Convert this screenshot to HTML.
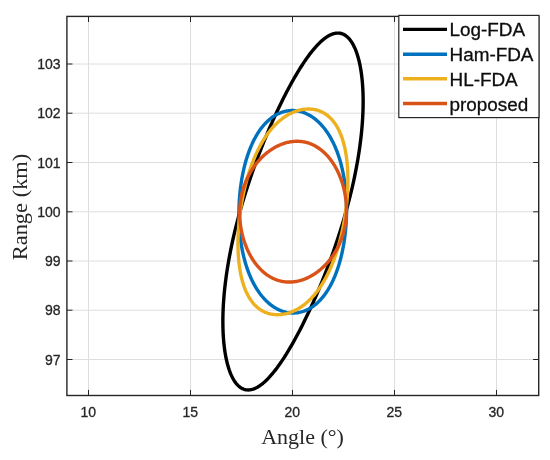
<!DOCTYPE html><html><head><meta charset="utf-8"><title>plot</title><style>html,body{margin:0;padding:0;background:#fff}svg{display:block}text{font-family:"Liberation Sans",sans-serif;fill:#262626;stroke:#262626;stroke-width:0.3px}.s{font-family:"Liberation Serif",serif;stroke:none}.l{fill:#0d0d0d;stroke:#0d0d0d}</style></head><body>
<svg width="550" height="460" viewBox="0 0 550 460">
<rect width="550" height="460" fill="#fff"/>
<path d="M88.5,16.4 V395.5 M190.5,16.4 V395.5 M292.5,16.4 V395.5 M394.5,16.4 V395.5 M496.5,16.4 V395.5 M66.9,359.5 H538.7 M66.9,310.2 H538.7 M66.9,261.0 H538.7 M66.9,211.8 H538.7 M66.9,162.5 H538.7 M66.9,113.2 H538.7 M66.9,64.0 H538.7" stroke="#dedede" stroke-width="1" fill="none"/>
<clipPath id="c"><rect x="66.9" y="16.4" width="471.8" height="379.1"/></clipPath>
<g clip-path="url(#c)" fill="none" stroke-linejoin="round">
<path d="M349.85,197.12 L350.60,194.09 L351.34,191.07 L352.05,188.06 L352.74,185.05 L353.41,182.05 L354.06,179.06 L354.68,176.07 L355.29,173.10 L355.88,170.14 L356.44,167.19 L356.98,164.25 L357.50,161.33 L358.00,158.42 L358.47,155.52 L358.92,152.64 L359.35,149.78 L359.76,146.93 L360.14,144.10 L360.50,141.29 L360.84,138.50 L361.16,135.73 L361.45,132.98 L361.72,130.25 L361.96,127.54 L362.18,124.86 L362.38,122.20 L362.56,119.56 L362.71,116.95 L362.84,114.37 L362.94,111.81 L363.03,109.28 L363.09,106.78 L363.13,104.31 L363.14,101.87 L363.13,99.46 L363.10,97.08 L363.05,94.74 L362.98,92.42 L362.88,90.14 L362.76,87.90 L362.62,85.69 L362.46,83.51 L362.28,81.37 L362.08,79.27 L361.85,77.21 L361.61,75.19 L361.35,73.20 L361.06,71.26 L360.75,69.36 L360.43,67.50 L360.09,65.68 L359.72,63.90 L359.34,62.17 L358.94,60.49 L358.52,58.84 L358.08,57.25 L357.62,55.70 L357.15,54.19 L356.66,52.74 L356.15,51.33 L355.62,49.97 L355.08,48.66 L354.52,47.40 L353.94,46.19 L353.35,45.02 L352.74,43.92 L352.12,42.86 L351.48,41.85 L350.82,40.90 L350.15,40.00 L349.47,39.16 L348.77,38.36 L348.06,37.62 L347.33,36.94 L346.59,36.31 L345.83,35.74 L345.07,35.22 L344.28,34.76 L343.49,34.35 L342.68,34.00 L341.86,33.70 L341.03,33.47 L340.18,33.28 L339.33,33.16 L338.46,33.09 L337.58,33.08 L336.68,33.12 L335.78,33.23 L334.86,33.39 L333.94,33.60 L333.00,33.88 L332.05,34.21 L331.10,34.59 L330.13,35.04 L329.15,35.54 L328.16,36.09 L327.16,36.70 L326.15,37.37 L325.14,38.10 L324.11,38.87 L323.07,39.71 L322.03,40.60 L320.97,41.54 L319.91,42.54 L318.84,43.59 L317.76,44.69 L316.67,45.85 L315.58,47.05 L314.48,48.31 L313.37,49.63 L312.25,50.99 L311.13,52.40 L309.99,53.86 L308.86,55.38 L307.71,56.94 L306.56,58.55 L305.41,60.20 L304.25,61.90 L303.08,63.65 L301.91,65.45 L300.73,67.29 L299.55,69.17 L298.36,71.09 L297.17,73.06 L295.98,75.07 L294.78,77.12 L293.58,79.22 L292.38,81.35 L291.18,83.52 L289.97,85.73 L288.76,87.97 L287.55,90.25 L286.34,92.57 L285.13,94.92 L283.92,97.31 L282.70,99.73 L281.49,102.18 L280.28,104.66 L279.07,107.17 L277.87,109.72 L276.66,112.29 L275.46,114.89 L274.26,117.51 L273.06,120.17 L271.87,122.85 L270.68,125.55 L269.50,128.27 L268.32,131.02 L267.15,133.79 L265.98,136.59 L264.82,139.40 L263.67,142.23 L262.53,145.08 L261.39,147.95 L260.26,150.83 L259.14,153.73 L258.03,156.65 L256.93,159.57 L255.84,162.52 L254.77,165.47 L253.70,168.44 L252.64,171.41 L251.60,174.40 L250.57,177.40 L249.55,180.40 L248.55,183.41 L247.56,186.43 L246.58,189.46 L245.62,192.49 L244.68,195.52 L243.75,198.56 L242.83,201.60 L241.94,204.64 L241.06,207.68 L240.20,210.72 L239.35,213.76 L238.52,216.80 L237.72,219.84 L236.93,222.87 L236.16,225.90 L235.41,228.93 L234.67,231.95 L233.96,234.97 L233.27,237.97 L232.60,240.97 L231.95,243.96 L231.33,246.95 L230.72,249.92 L230.13,252.88 L229.57,255.83 L229.03,258.77 L228.51,261.69 L228.01,264.60 L227.54,267.50 L227.09,270.38 L226.66,273.24 L226.25,276.09 L225.87,278.92 L225.51,281.73 L225.17,284.52 L224.85,287.29 L224.56,290.04 L224.29,292.77 L224.05,295.48 L223.83,298.16 L223.63,300.82 L223.45,303.46 L223.30,306.07 L223.17,308.65 L223.07,311.21 L222.98,313.74 L222.92,316.24 L222.88,318.71 L222.87,321.15 L222.88,323.56 L222.91,325.94 L222.96,328.29 L223.03,330.60 L223.13,332.88 L223.25,335.13 L223.39,337.34 L223.55,339.51 L223.73,341.65 L223.93,343.75 L224.16,345.81 L224.40,347.83 L224.66,349.82 L224.95,351.76 L225.26,353.66 L225.58,355.52 L225.92,357.34 L226.29,359.12 L226.67,360.85 L227.07,362.54 L227.49,364.18 L227.93,365.77 L228.39,367.33 L228.86,368.83 L229.35,370.29 L229.86,371.69 L230.39,373.05 L230.93,374.36 L231.49,375.63 L232.07,376.84 L232.66,378.00 L233.27,379.10 L233.89,380.16 L234.53,381.17 L235.19,382.12 L235.86,383.02 L236.54,383.87 L237.24,384.66 L237.95,385.40 L238.68,386.08 L239.42,386.71 L240.18,387.28 L240.94,387.80 L241.73,388.26 L242.52,388.67 L243.33,389.02 L244.15,389.32 L244.98,389.56 L245.83,389.74 L246.68,389.86 L247.55,389.93 L248.43,389.94 L249.33,389.90 L250.23,389.79 L251.15,389.63 L252.07,389.42 L253.01,389.14 L253.96,388.81 L254.91,388.43 L255.88,387.98 L256.86,387.48 L257.85,386.93 L258.85,386.32 L259.86,385.65 L260.87,384.93 L261.90,384.15 L262.94,383.31 L263.98,382.42 L265.04,381.48 L266.10,380.49 L267.17,379.43 L268.25,378.33 L269.34,377.18 L270.43,375.97 L271.53,374.71 L272.64,373.39 L273.76,372.03 L274.88,370.62 L276.02,369.16 L277.15,367.64 L278.30,366.08 L279.45,364.48 L280.60,362.82 L281.76,361.12 L282.93,359.37 L284.10,357.57 L285.28,355.74 L286.46,353.85 L287.65,351.93 L288.84,349.96 L290.03,347.95 L291.23,345.90 L292.43,343.80 L293.63,341.67 L294.83,339.50 L296.04,337.29 L297.25,335.05 L298.46,332.77 L299.67,330.45 L300.88,328.10 L302.09,325.71 L303.31,323.29 L304.52,320.84 L305.73,318.36 L306.94,315.85 L308.14,313.30 L309.35,310.73 L310.55,308.13 L311.75,305.51 L312.95,302.85 L314.14,300.18 L315.33,297.47 L316.51,294.75 L317.69,292.00 L318.86,289.23 L320.03,286.43 L321.18,283.62 L322.34,280.79 L323.48,277.94 L324.62,275.07 L325.75,272.19 L326.87,269.29 L327.98,266.38 L329.08,263.45 L330.16,260.50 L331.24,257.55 L332.31,254.58 L333.37,251.61 L334.41,248.62 L335.44,245.62 L336.46,242.62 L337.46,239.61 L338.45,236.59 L339.43,233.56 L340.39,230.53 L341.33,227.50 L342.26,224.46 L343.18,221.43 L344.07,218.38 L344.95,215.34 L345.81,212.30 L346.66,209.26 L347.49,206.22 L348.29,203.18 L349.08,200.15Z" stroke="#000000" stroke-width="3.4"/>
<path d="M346.51,214.10 L346.54,212.30 L346.55,210.51 L346.55,208.71 L346.53,206.91 L346.50,205.11 L346.45,203.32 L346.39,201.52 L346.31,199.72 L346.21,197.93 L346.10,196.14 L345.98,194.35 L345.83,192.57 L345.67,190.79 L345.49,189.02 L345.30,187.25 L345.09,185.50 L344.87,183.74 L344.62,182.00 L344.37,180.26 L344.09,178.54 L343.80,176.82 L343.49,175.12 L343.16,173.42 L342.82,171.74 L342.46,170.07 L342.09,168.41 L341.70,166.77 L341.29,165.14 L340.86,163.52 L340.42,161.92 L339.97,160.34 L339.49,158.77 L339.00,157.23 L338.50,155.69 L337.97,154.18 L337.44,152.69 L336.88,151.21 L336.31,149.76 L335.73,148.32 L335.13,146.91 L334.51,145.52 L333.88,144.15 L333.24,142.80 L332.58,141.48 L331.91,140.18 L331.22,138.90 L330.52,137.65 L329.80,136.42 L329.07,135.22 L328.33,134.04 L327.58,132.89 L326.81,131.76 L326.03,130.66 L325.24,129.59 L324.44,128.55 L323.62,127.53 L322.80,126.54 L321.96,125.58 L321.12,124.64 L320.26,123.74 L319.39,122.86 L318.52,122.01 L317.64,121.20 L316.74,120.41 L315.84,119.65 L314.93,118.92 L314.02,118.22 L313.10,117.55 L312.17,116.91 L311.23,116.30 L310.29,115.72 L309.34,115.17 L308.39,114.65 L307.43,114.17 L306.47,113.71 L305.51,113.28 L304.54,112.89 L303.57,112.52 L302.60,112.19 L301.62,111.89 L300.65,111.61 L299.67,111.37 L298.69,111.16 L297.71,110.98 L296.73,110.83 L295.75,110.71 L294.77,110.62 L293.79,110.56 L292.81,110.53 L291.84,110.53 L290.87,110.56 L289.89,110.62 L288.93,110.71 L287.96,110.83 L287.00,110.97 L286.04,111.15 L285.09,111.36 L284.14,111.60 L283.20,111.86 L282.26,112.16 L281.32,112.48 L280.40,112.83 L279.48,113.21 L278.56,113.62 L277.65,114.05 L276.75,114.52 L275.85,115.01 L274.96,115.52 L274.08,116.07 L273.21,116.64 L272.35,117.24 L271.49,117.87 L270.64,118.52 L269.80,119.20 L268.97,119.90 L268.15,120.63 L267.33,121.39 L266.53,122.17 L265.73,122.98 L264.95,123.81 L264.17,124.67 L263.41,125.55 L262.65,126.46 L261.91,127.39 L261.17,128.34 L260.45,129.32 L259.73,130.32 L259.03,131.34 L258.34,132.39 L257.65,133.46 L256.98,134.56 L256.32,135.67 L255.67,136.81 L255.03,137.97 L254.40,139.15 L253.79,140.35 L253.18,141.58 L252.59,142.82 L252.01,144.09 L251.44,145.37 L250.88,146.68 L250.33,148.00 L249.80,149.35 L249.27,150.71 L248.76,152.09 L248.26,153.50 L247.77,154.91 L247.30,156.35 L246.84,157.81 L246.38,159.28 L245.94,160.77 L245.52,162.27 L245.10,163.79 L244.70,165.33 L244.31,166.88 L243.94,168.45 L243.57,170.04 L243.22,171.63 L242.88,173.24 L242.56,174.87 L242.25,176.50 L241.95,178.15 L241.66,179.81 L241.39,181.49 L241.13,183.17 L240.89,184.87 L240.66,186.57 L240.44,188.29 L240.24,190.01 L240.05,191.75 L239.87,193.49 L239.71,195.24 L239.56,196.99 L239.43,198.75 L239.31,200.52 L239.21,202.30 L239.12,204.08 L239.04,205.86 L238.98,207.65 L238.94,209.44 L238.91,211.23 L238.90,213.03 L238.90,214.83 L238.91,216.62 L238.95,218.42 L238.99,220.22 L239.06,222.02 L239.14,223.81 L239.23,225.61 L239.34,227.40 L239.47,229.18 L239.62,230.97 L239.78,232.74 L239.95,234.52 L240.15,236.28 L240.35,238.04 L240.58,239.79 L240.82,241.54 L241.08,243.27 L241.36,245.00 L241.65,246.72 L241.96,248.42 L242.28,250.12 L242.62,251.80 L242.98,253.47 L243.36,255.13 L243.75,256.77 L244.16,258.40 L244.58,260.01 L245.02,261.61 L245.48,263.20 L245.95,264.76 L246.44,266.31 L246.95,267.84 L247.47,269.36 L248.01,270.85 L248.56,272.32 L249.13,273.78 L249.72,275.21 L250.32,276.63 L250.93,278.02 L251.56,279.39 L252.21,280.73 L252.87,282.06 L253.54,283.36 L254.23,284.64 L254.93,285.89 L255.64,287.12 L256.37,288.32 L257.11,289.50 L257.87,290.65 L258.64,291.77 L259.42,292.87 L260.21,293.95 L261.01,294.99 L261.82,296.01 L262.65,297.00 L263.48,297.96 L264.33,298.89 L265.19,299.80 L266.05,300.68 L266.93,301.52 L267.81,302.34 L268.70,303.13 L269.61,303.89 L270.51,304.62 L271.43,305.32 L272.35,305.99 L273.28,306.63 L274.22,307.24 L275.16,307.82 L276.11,308.36 L277.06,308.88 L278.01,309.37 L278.97,309.83 L279.94,310.25 L280.91,310.65 L281.88,311.01 L282.85,311.35 L283.82,311.65 L284.80,311.92 L285.78,312.17 L286.76,312.38 L287.74,312.56 L288.72,312.71 L289.70,312.83 L290.68,312.92 L291.66,312.98 L292.63,313.01 L293.61,313.01 L294.58,312.98 L295.55,312.92 L296.52,312.83 L297.49,312.71 L298.45,312.56 L299.40,312.38 L300.36,312.18 L301.31,311.94 L302.25,311.68 L303.19,311.38 L304.12,311.06 L305.05,310.71 L305.97,310.33 L306.89,309.92 L307.80,309.48 L308.70,309.02 L309.60,308.53 L310.48,308.01 L311.36,307.47 L312.24,306.89 L313.10,306.29 L313.96,305.67 L314.81,305.02 L315.65,304.34 L316.48,303.63 L317.30,302.90 L318.11,302.15 L318.92,301.36 L319.71,300.56 L320.50,299.72 L321.27,298.87 L322.04,297.99 L322.79,297.08 L323.54,296.15 L324.28,295.20 L325.00,294.22 L325.71,293.22 L326.42,292.19 L327.11,291.14 L327.79,290.07 L328.47,288.98 L329.13,287.86 L329.78,286.73 L330.42,285.57 L331.04,284.39 L331.66,283.18 L332.26,281.96 L332.86,280.71 L333.44,279.45 L334.01,278.16 L334.57,276.86 L335.12,275.53 L335.65,274.19 L336.17,272.83 L336.69,271.44 L337.19,270.04 L337.67,268.62 L338.15,267.18 L338.61,265.73 L339.06,264.26 L339.50,262.77 L339.93,261.26 L340.34,259.74 L340.75,258.20 L341.13,256.65 L341.51,255.08 L341.87,253.50 L342.23,251.90 L342.56,250.29 L342.89,248.67 L343.20,247.03 L343.50,245.38 L343.78,243.72 L344.06,242.05 L344.31,240.36 L344.56,238.67 L344.79,236.96 L345.01,235.25 L345.21,233.52 L345.40,231.79 L345.58,230.05 L345.74,228.30 L345.89,226.55 L346.02,224.78 L346.14,223.01 L346.24,221.24 L346.33,219.46 L346.41,217.68 L346.47,215.89Z" stroke="#0072BD" stroke-width="3.4"/>
<path d="M346.43,205.56 L346.64,203.57 L346.84,201.58 L347.02,199.60 L347.19,197.62 L347.33,195.64 L347.47,193.67 L347.58,191.71 L347.68,189.76 L347.76,187.81 L347.82,185.88 L347.86,183.95 L347.89,182.04 L347.90,180.14 L347.89,178.26 L347.87,176.38 L347.82,174.53 L347.76,172.69 L347.68,170.86 L347.58,169.06 L347.47,167.27 L347.34,165.50 L347.19,163.75 L347.02,162.02 L346.83,160.32 L346.63,158.63 L346.41,156.97 L346.17,155.34 L345.92,153.72 L345.64,152.13 L345.35,150.57 L345.04,149.03 L344.72,147.52 L344.37,146.03 L344.01,144.58 L343.64,143.15 L343.24,141.74 L342.83,140.37 L342.41,139.02 L341.96,137.71 L341.51,136.42 L341.03,135.16 L340.54,133.93 L340.03,132.73 L339.51,131.56 L338.98,130.43 L338.42,129.32 L337.86,128.24 L337.28,127.19 L336.68,126.18 L336.07,125.19 L335.45,124.23 L334.81,123.31 L334.16,122.41 L333.50,121.55 L332.82,120.72 L332.14,119.91 L331.44,119.14 L330.72,118.40 L330.00,117.68 L329.26,117.00 L328.52,116.35 L327.76,115.72 L326.99,115.13 L326.22,114.56 L325.43,114.03 L324.63,113.52 L323.83,113.04 L323.01,112.59 L322.19,112.16 L321.36,111.77 L320.52,111.40 L319.67,111.06 L318.82,110.75 L317.95,110.46 L317.09,110.20 L316.21,109.97 L315.33,109.76 L314.44,109.58 L313.55,109.42 L312.66,109.30 L311.75,109.19 L310.85,109.11 L309.94,109.06 L309.02,109.03 L308.10,109.03 L307.18,109.05 L306.26,109.10 L305.33,109.17 L304.40,109.26 L303.47,109.38 L302.54,109.53 L301.60,109.69 L300.67,109.89 L299.73,110.10 L298.79,110.34 L297.85,110.61 L296.91,110.89 L295.97,111.20 L295.04,111.54 L294.10,111.90 L293.16,112.28 L292.22,112.69 L291.29,113.12 L290.36,113.58 L289.43,114.06 L288.50,114.56 L287.57,115.09 L286.64,115.64 L285.72,116.22 L284.80,116.82 L283.89,117.45 L282.97,118.10 L282.07,118.78 L281.16,119.48 L280.26,120.21 L279.36,120.96 L278.47,121.74 L277.58,122.54 L276.70,123.37 L275.82,124.23 L274.94,125.11 L274.08,126.02 L273.21,126.95 L272.36,127.91 L271.51,128.90 L270.66,129.91 L269.82,130.95 L268.99,132.01 L268.17,133.10 L267.35,134.22 L266.54,135.37 L265.74,136.54 L264.94,137.74 L264.15,138.96 L263.37,140.21 L262.60,141.49 L261.83,142.79 L261.08,144.12 L260.33,145.47 L259.59,146.85 L258.86,148.26 L258.14,149.69 L257.43,151.15 L256.73,152.63 L256.04,154.13 L255.35,155.66 L254.68,157.22 L254.02,158.80 L253.37,160.40 L252.73,162.02 L252.10,163.66 L251.48,165.33 L250.87,167.02 L250.28,168.73 L249.69,170.46 L249.12,172.21 L248.56,173.97 L248.01,175.76 L247.48,177.56 L246.96,179.38 L246.45,181.22 L245.95,183.07 L245.46,184.94 L244.99,186.82 L244.54,188.72 L244.10,190.62 L243.67,192.54 L243.25,194.47 L242.85,196.41 L242.47,198.36 L242.10,200.32 L241.74,202.29 L241.40,204.26 L241.07,206.24 L240.76,208.22 L240.47,210.20 L240.19,212.19 L239.93,214.18 L239.68,216.17 L239.45,218.16 L239.23,220.15 L239.04,222.14 L238.85,224.12 L238.69,226.10 L238.54,228.08 L238.41,230.05 L238.30,232.01 L238.20,233.96 L238.12,235.91 L238.06,237.84 L238.01,239.77 L237.99,241.68 L237.98,243.58 L237.99,245.46 L238.01,247.34 L238.05,249.19 L238.12,251.03 L238.19,252.86 L238.29,254.66 L238.41,256.45 L238.54,258.22 L238.69,259.97 L238.86,261.70 L239.04,263.40 L239.25,265.09 L239.47,266.75 L239.70,268.38 L239.96,270.00 L240.23,271.59 L240.53,273.15 L240.83,274.69 L241.16,276.20 L241.50,277.69 L241.86,279.14 L242.24,280.57 L242.63,281.98 L243.04,283.35 L243.47,284.70 L243.91,286.01 L244.37,287.30 L244.85,288.56 L245.34,289.79 L245.84,290.99 L246.36,292.16 L246.90,293.29 L247.45,294.40 L248.02,295.48 L248.60,296.53 L249.20,297.54 L249.80,298.53 L250.43,299.49 L251.06,300.41 L251.71,301.31 L252.38,302.17 L253.05,303.00 L253.74,303.81 L254.44,304.58 L255.15,305.32 L255.88,306.04 L256.61,306.72 L257.36,307.37 L258.11,308.00 L258.88,308.59 L259.66,309.16 L260.45,309.69 L261.24,310.20 L262.05,310.68 L262.86,311.13 L263.69,311.56 L264.52,311.95 L265.36,312.32 L266.21,312.66 L267.06,312.97 L267.92,313.26 L268.79,313.52 L269.66,313.75 L270.55,313.96 L271.43,314.14 L272.32,314.30 L273.22,314.42 L274.12,314.53 L275.03,314.61 L275.94,314.66 L276.85,314.69 L277.77,314.69 L278.69,314.67 L279.62,314.62 L280.54,314.55 L281.47,314.46 L282.41,314.34 L283.34,314.19 L284.27,314.03 L285.21,313.83 L286.15,313.62 L287.09,313.38 L288.02,313.11 L288.96,312.83 L289.90,312.52 L290.84,312.18 L291.78,311.82 L292.72,311.44 L293.65,311.03 L294.59,310.60 L295.52,310.14 L296.45,309.66 L297.38,309.16 L298.31,308.63 L299.23,308.08 L300.15,307.50 L301.07,306.90 L301.99,306.27 L302.90,305.62 L303.81,304.94 L304.72,304.24 L305.62,303.51 L306.51,302.76 L307.41,301.98 L308.30,301.18 L309.18,300.35 L310.06,299.49 L310.93,298.61 L311.80,297.70 L312.66,296.77 L313.52,295.81 L314.37,294.82 L315.21,293.81 L316.05,292.77 L316.88,291.71 L317.71,290.62 L318.53,289.50 L319.34,288.35 L320.14,287.18 L320.94,285.98 L321.73,284.76 L322.51,283.51 L323.28,282.23 L324.04,280.93 L324.80,279.60 L325.55,278.25 L326.29,276.87 L327.01,275.46 L327.74,274.03 L328.45,272.57 L329.15,271.09 L329.84,269.59 L330.52,268.06 L331.19,266.50 L331.86,264.92 L332.51,263.32 L333.15,261.70 L333.78,260.06 L334.40,258.39 L335.00,256.70 L335.60,254.99 L336.18,253.26 L336.75,251.51 L337.31,249.75 L337.86,247.96 L338.40,246.16 L338.92,244.34 L339.43,242.50 L339.93,240.65 L340.41,238.78 L340.88,236.90 L341.34,235.00 L341.78,233.09 L342.21,231.18 L342.62,229.25 L343.02,227.30 L343.41,225.36 L343.78,223.40 L344.14,221.43 L344.48,219.46 L344.80,217.48 L345.11,215.50 L345.41,213.52 L345.69,211.53 L345.95,209.54 L346.20,207.55Z" stroke="#EDB120" stroke-width="3.4"/>
<path d="M346.46,211.63 L346.47,210.45 L346.46,209.27 L346.44,208.09 L346.41,206.90 L346.35,205.72 L346.29,204.55 L346.20,203.37 L346.11,202.19 L345.99,201.02 L345.86,199.85 L345.72,198.68 L345.56,197.52 L345.39,196.36 L345.20,195.20 L345.00,194.04 L344.79,192.89 L344.56,191.75 L344.31,190.61 L344.05,189.47 L343.78,188.34 L343.49,187.22 L343.19,186.10 L342.88,184.99 L342.55,183.88 L342.21,182.78 L341.86,181.69 L341.49,180.61 L341.11,179.53 L340.72,178.47 L340.31,177.41 L339.89,176.36 L339.46,175.32 L339.02,174.28 L338.56,173.26 L338.09,172.25 L337.61,171.25 L337.12,170.26 L336.62,169.28 L336.10,168.31 L335.57,167.36 L335.03,166.41 L334.48,165.48 L333.92,164.56 L333.34,163.66 L332.75,162.77 L332.16,161.89 L331.55,161.03 L330.93,160.18 L330.30,159.34 L329.66,158.52 L329.01,157.72 L328.35,156.93 L327.67,156.16 L326.99,155.40 L326.30,154.66 L325.60,153.94 L324.88,153.24 L324.16,152.55 L323.43,151.88 L322.69,151.23 L321.94,150.60 L321.18,149.98 L320.41,149.39 L319.63,148.81 L318.84,148.26 L318.05,147.72 L317.24,147.20 L316.43,146.71 L315.61,146.23 L314.78,145.78 L313.94,145.34 L313.10,144.93 L312.25,144.54 L311.39,144.17 L310.53,143.82 L309.65,143.50 L308.78,143.19 L307.89,142.91 L307.00,142.65 L306.10,142.41 L305.20,142.20 L304.29,142.00 L303.38,141.83 L302.46,141.69 L301.54,141.56 L300.62,141.46 L299.69,141.38 L298.75,141.33 L297.81,141.30 L296.87,141.29 L295.93,141.30 L294.99,141.34 L294.04,141.40 L293.09,141.48 L292.14,141.59 L291.18,141.71 L290.23,141.87 L289.28,142.04 L288.32,142.24 L287.37,142.46 L286.41,142.70 L285.46,142.96 L284.51,143.25 L283.56,143.56 L282.61,143.89 L281.67,144.24 L280.72,144.61 L279.78,145.01 L278.85,145.42 L277.91,145.86 L276.99,146.32 L276.06,146.80 L275.14,147.30 L274.23,147.82 L273.32,148.36 L272.42,148.91 L271.52,149.49 L270.63,150.09 L269.75,150.71 L268.87,151.34 L268.00,151.99 L267.14,152.66 L266.29,153.35 L265.45,154.06 L264.62,154.78 L263.79,155.52 L262.98,156.28 L262.18,157.05 L261.38,157.84 L260.60,158.65 L259.83,159.47 L259.07,160.30 L258.32,161.15 L257.58,162.01 L256.86,162.89 L256.15,163.78 L255.45,164.69 L254.76,165.61 L254.09,166.54 L253.43,167.48 L252.78,168.43 L252.15,169.40 L251.53,170.38 L250.93,171.37 L250.34,172.37 L249.76,173.38 L249.20,174.40 L248.66,175.43 L248.13,176.47 L247.61,177.52 L247.12,178.58 L246.63,179.64 L246.17,180.72 L245.72,181.80 L245.28,182.89 L244.86,183.99 L244.46,185.09 L244.07,186.20 L243.70,187.32 L243.35,188.44 L243.01,189.57 L242.69,190.70 L242.38,191.84 L242.09,192.99 L241.82,194.13 L241.57,195.29 L241.33,196.44 L241.11,197.60 L240.90,198.77 L240.71,199.93 L240.54,201.10 L240.38,202.28 L240.24,203.45 L240.12,204.63 L240.01,205.81 L239.92,206.99 L239.84,208.17 L239.79,209.35 L239.74,210.53 L239.72,211.71 L239.71,212.90 L239.71,214.08 L239.73,215.26 L239.77,216.44 L239.82,217.62 L239.89,218.80 L239.97,219.98 L240.07,221.15 L240.18,222.33 L240.31,223.50 L240.45,224.66 L240.61,225.83 L240.78,226.99 L240.97,228.15 L241.17,229.30 L241.39,230.45 L241.62,231.60 L241.86,232.74 L242.12,233.87 L242.39,235.00 L242.68,236.13 L242.98,237.25 L243.29,238.36 L243.62,239.46 L243.96,240.56 L244.31,241.65 L244.68,242.74 L245.06,243.81 L245.45,244.88 L245.86,245.94 L246.28,246.99 L246.71,248.03 L247.15,249.06 L247.61,250.08 L248.08,251.09 L248.56,252.10 L249.05,253.09 L249.56,254.06 L250.07,255.03 L250.60,255.99 L251.14,256.93 L251.69,257.86 L252.26,258.78 L252.83,259.69 L253.42,260.58 L254.01,261.46 L254.62,262.32 L255.24,263.17 L255.87,264.00 L256.51,264.82 L257.16,265.63 L257.83,266.42 L258.50,267.19 L259.18,267.94 L259.87,268.68 L260.58,269.40 L261.29,270.11 L262.01,270.80 L262.74,271.47 L263.48,272.12 L264.24,272.75 L265.00,273.36 L265.77,273.96 L266.54,274.53 L267.33,275.09 L268.13,275.63 L268.93,276.14 L269.74,276.64 L270.56,277.11 L271.39,277.57 L272.23,278.00 L273.07,278.41 L273.92,278.81 L274.78,279.18 L275.65,279.52 L276.52,279.85 L277.40,280.16 L278.28,280.44 L279.17,280.70 L280.07,280.93 L280.97,281.15 L281.88,281.34 L282.79,281.51 L283.71,281.66 L284.63,281.78 L285.56,281.88 L286.49,281.96 L287.42,282.02 L288.36,282.05 L289.30,282.06 L290.24,282.05 L291.19,282.01 L292.14,281.95 L293.08,281.87 L294.04,281.76 L294.99,281.63 L295.94,281.48 L296.90,281.31 L297.85,281.11 L298.80,280.89 L299.76,280.65 L300.71,280.38 L301.66,280.10 L302.61,279.79 L303.56,279.46 L304.51,279.11 L305.45,278.73 L306.39,278.34 L307.33,277.92 L308.26,277.48 L309.19,277.03 L310.11,276.55 L311.03,276.05 L311.94,275.53 L312.85,274.99 L313.76,274.43 L314.65,273.85 L315.54,273.26 L316.43,272.64 L317.30,272.01 L318.17,271.35 L319.03,270.68 L319.88,269.99 L320.72,269.29 L321.55,268.56 L322.38,267.82 L323.19,267.07 L324.00,266.29 L324.79,265.50 L325.57,264.70 L326.34,263.88 L327.10,263.05 L327.85,262.20 L328.59,261.33 L329.31,260.45 L330.03,259.56 L330.73,258.66 L331.41,257.74 L332.09,256.81 L332.75,255.87 L333.39,254.91 L334.02,253.94 L334.64,252.97 L335.25,251.98 L335.84,250.98 L336.41,249.97 L336.97,248.95 L337.51,247.92 L338.04,246.88 L338.56,245.83 L339.06,244.77 L339.54,243.70 L340.01,242.63 L340.46,241.55 L340.89,240.46 L341.31,239.36 L341.71,238.26 L342.10,237.15 L342.47,236.03 L342.83,234.91 L343.16,233.78 L343.49,232.64 L343.79,231.50 L344.08,230.36 L344.35,229.21 L344.61,228.06 L344.84,226.90 L345.07,225.74 L345.27,224.58 L345.46,223.41 L345.63,222.24 L345.79,221.07 L345.93,219.89 L346.05,218.72 L346.16,217.54 L346.25,216.36 L346.33,215.18 L346.39,214.00 L346.43,212.82Z" stroke="#D95319" stroke-width="3.4"/>
</g>
<path d="M88.5,395.5 v-5.6 M88.5,16.4 v5.6 M190.5,395.5 v-5.6 M190.5,16.4 v5.6 M292.5,395.5 v-5.6 M292.5,16.4 v5.6 M394.5,395.5 v-5.6 M394.5,16.4 v5.6 M496.5,395.5 v-5.6 M496.5,16.4 v5.6 M66.9,359.5 h5.6 M538.7,359.5 h-5.6 M66.9,310.2 h5.6 M538.7,310.2 h-5.6 M66.9,261.0 h5.6 M538.7,261.0 h-5.6 M66.9,211.8 h5.6 M538.7,211.8 h-5.6 M66.9,162.5 h5.6 M538.7,162.5 h-5.6 M66.9,113.2 h5.6 M538.7,113.2 h-5.6 M66.9,64.0 h5.6 M538.7,64.0 h-5.6" stroke="#262626" stroke-width="1.0" fill="none"/>
<rect x="66.9" y="16.4" width="471.8" height="379.1" fill="none" stroke="#262626" stroke-width="1.4"/>
<text x="88.2" y="416.7" font-size="14" text-anchor="middle">10</text>
<text x="190.2" y="416.7" font-size="14" text-anchor="middle">15</text>
<text x="292.2" y="416.7" font-size="14" text-anchor="middle">20</text>
<text x="394.2" y="416.7" font-size="14" text-anchor="middle">25</text>
<text x="496.2" y="416.7" font-size="14" text-anchor="middle">30</text>
<text x="60.5" y="364.6" font-size="14" text-anchor="end">97</text>
<text x="60.5" y="315.4" font-size="14" text-anchor="end">98</text>
<text x="60.5" y="266.1" font-size="14" text-anchor="end">99</text>
<text x="60.5" y="216.8" font-size="14" text-anchor="end">100</text>
<text x="60.5" y="167.6" font-size="14" text-anchor="end">101</text>
<text x="60.5" y="118.3" font-size="14" text-anchor="end">102</text>
<text x="60.5" y="69.1" font-size="14" text-anchor="end">103</text>
<text class="s" x="302.5" y="444.2" font-size="22" text-anchor="middle">Angle (°)</text>
<text class="s" transform="translate(26.8,207) rotate(-90) scale(1.045,1)" font-size="21.5" text-anchor="middle">Range (km)</text>
<rect x="398.8" y="15.4" width="140.2" height="102.2" fill="#fff" stroke="#262626" stroke-width="1.2"/>
<path d="M403,29.4 H447" stroke="#000000" stroke-width="3.4" fill="none"/>
<text x="449.5" y="36.4" class="l" font-size="18.9">Log-FDA</text>
<path d="M403,54.2 H447" stroke="#0072BD" stroke-width="3.4" fill="none"/>
<text x="449.5" y="61.2" class="l" font-size="18.9">Ham-FDA</text>
<path d="M403,78.8 H447" stroke="#EDB120" stroke-width="3.4" fill="none"/>
<text x="449.5" y="85.8" class="l" font-size="18.9">HL-FDA</text>
<path d="M403,103.5 H447" stroke="#D95319" stroke-width="3.4" fill="none"/>
<text x="449.5" y="110.5" class="l" font-size="18.9">proposed</text>
</svg></body></html>
